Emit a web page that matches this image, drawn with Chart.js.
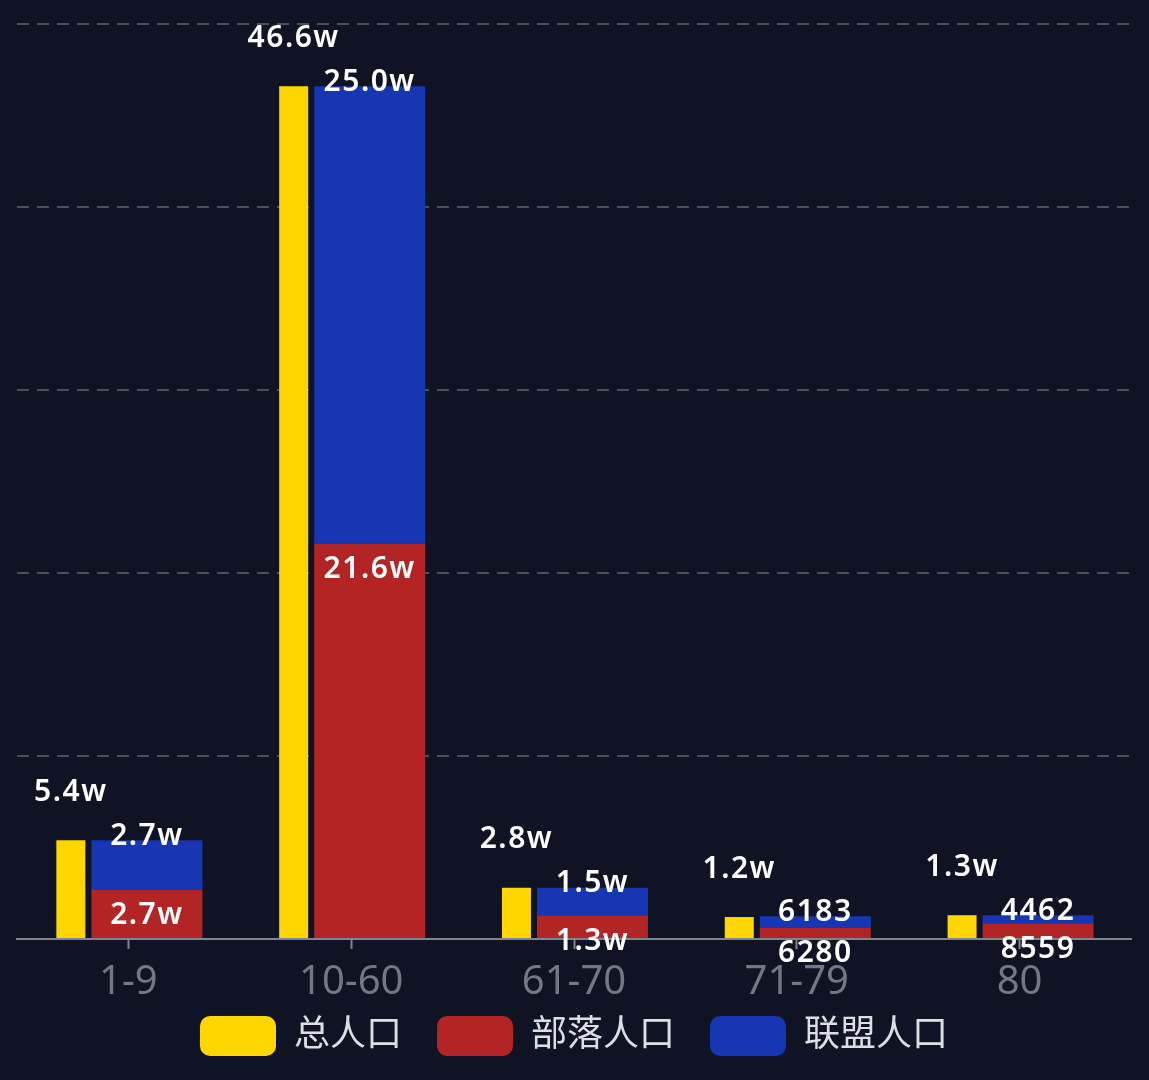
<!DOCTYPE html>
<html>
<head>
<meta charset="utf-8">
<script src="https://cdn.jsdelivr.net/npm/chart.js@4/dist/chart.umd.min.js"></script>
<style>
  html, body { margin: 0; padding: 0; background: #0f1323; }
  #wrap { width: 1149px; height: 1080px; position: relative; }
</style>
</head>
<body>
<div id="wrap"><canvas id="chart"></canvas></div>
<script>
// 数据（单位：万）
const levels = ['1-9', '10-60', '61-70', '71-79', '80'];
const totalPop = [5.4, 46.6, 2.8, 1.2, 1.3];
const hordePop = [2.7, 21.6, 1.3, 0.6280, 0.8559];
const alliancePop = [2.7, 25.0, 1.5, 0.6183, 0.4462];
const yTicks = [0, 10, 20, 30, 40, 50];

const FONT = '"Noto Sans", "Noto Sans CJK SC", sans-serif';

function fmt(v) {
  // >= 1w 显示 x.xw，否则显示原始人数
  return v >= 1 ? v.toFixed(1) + 'w' : String(Math.round(v * 10000));
}

// 柱上数值标签
const valueLabels = {
  id: 'valueLabels',
  afterDatasetsDraw(chart) {
    const ctx = chart.ctx;
    ctx.save();
    ctx.fillStyle = '#ffffff';
    ctx.textAlign = 'center';
    ctx.textBaseline = 'middle';
    ctx.font = '600 30px ' + FONT;
    if ('letterSpacing' in ctx) ctx.letterSpacing = '1.5px';

    const totMeta = chart.getDatasetMeta(0);
    const redMeta = chart.getDatasetMeta(1);
    const blueMeta = chart.getDatasetMeta(2);

    totMeta.data.forEach((bar, i) => {
      ctx.fillText(fmt(totalPop[i]), bar.x, bar.y - 48);
    });
    blueMeta.data.forEach((bar, i) => {
      ctx.fillText(fmt(alliancePop[i]), bar.x, bar.y - 4);
    });
    redMeta.data.forEach((bar, i) => {
      ctx.fillText(fmt(hordePop[i]), bar.x, bar.y + 26);
    });
    ctx.restore();
  }
};

const ctx = document.getElementById('chart').getContext('2d');
new Chart(ctx, {
  type: 'bar',
  data: {
    labels: levels,
    datasets: [
      {
        label: '总人口',
        data: totalPop,
        stack: 'total',
        backgroundColor: '#FFD600',
        categoryPercentage: 1.033,
        barPercentage: 0.252
      },
      {
        label: '部落人口',
        data: hordePop,
        stack: 'faction',
        backgroundColor: '#B32524',
        categoryPercentage: 0.332,
        barPercentage: 3.0
      },
      {
        label: '联盟人口',
        data: alliancePop,
        stack: 'faction',
        backgroundColor: '#1636B3',
        categoryPercentage: 0.332,
        barPercentage: 3.0
      }
    ]
  },
  options: {
    responsive: true,
    maintainAspectRatio: false,
    animation: false,
    layout: { padding: { left: 17, right: 18, top: 24, bottom: 14 } },
    scales: {
      x: {
        stacked: true,
        offset: true,
        // 标签画在轴下方但不占布局高度，避免被图例挤压
        afterFit(scale) { scale.height = 42; },
        grid: {
          offset: false,
          drawOnChartArea: false,
          drawTicks: true,
          tickLength: 10,
          tickColor: '#80848f',
          tickWidth: 2
        },
        border: { display: true, color: '#80848f', width: 2 },
        ticks: {
          color: '#737884',
          mirror: true,
          padding: -68,
          font: { family: FONT, size: 40, weight: '400' }
        }
      },
      y: {
        stacked: true,
        min: 0,
        max: yTicks[yTicks.length - 1],
        afterBuildTicks(axis) {
          axis.ticks = yTicks.map(v => ({ value: v }));
        },
        grid: {
          color: '#4a4f5d',
          lineWidth: 2,
          drawTicks: false
        },
        border: { display: false, dash: [12, 8] },
        ticks: { display: false }
      }
    },
    plugins: {
      legend: {
        position: 'bottom',
        labels: {
          color: '#dcdee4',
          boxWidth: 76,
          boxHeight: 40,
          padding: 35,
          useBorderRadius: true,
          borderRadius: 10,
          font: { family: FONT, size: 36 }
        }
      },
      tooltip: { enabled: false }
    }
  },
  plugins: [valueLabels]
});
</script>
</body>
</html>
